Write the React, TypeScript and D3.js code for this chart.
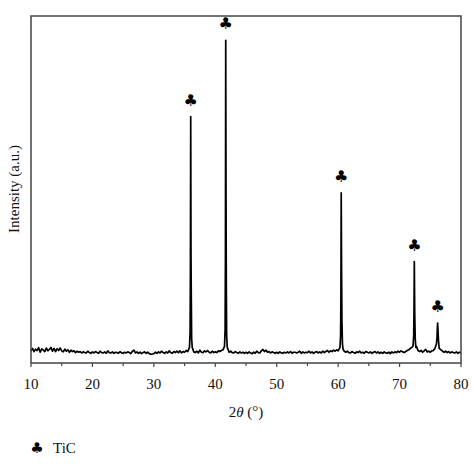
import React from "react";
import * as d3 from "d3";

// 2θ grid of the noisy background, step 0.25° from 10 to 80
const bgStart = 10;
const bgStep = 0.25;
const background: number[] = [
  34, 42, 33, 40, 36, 44, 31, 41, 37, 33, 43, 35, 39, 45, 34, 42,
  33, 41, 36, 43, 35, 32, 40, 34, 38, 31, 37, 33, 35, 30, 34, 31,
  33, 29, 32, 30, 29, 34, 30, 28, 32, 29, 33, 30, 28, 34, 30, 29,
  32, 28, 35, 30, 29, 32, 28, 31, 30, 28, 33, 29, 28, 31, 29, 32,
  30, 27, 34, 37, 29, 32, 28, 31, 27, 30, 32, 28, 31, 27, 25, 26,
  27, 31, 28, 32, 29, 34, 30, 28, 32, 29, 35, 30, 28, 33, 30, 34,
  30, 35, 29, 33, 31, 36, 33, 37, 38, 34, 32, 30, 34, 29, 37, 31,
  30, 35, 32, 36, 31, 29, 34, 30, 32, 30, 35, 33, 36, 38, 40, 35,
  34, 31, 34, 30, 29, 33, 30, 28, 32, 29, 31, 28, 31, 28, 32, 29,
  27, 31, 28, 34, 30, 29, 35, 39, 33, 37, 31, 33, 29, 32, 30, 28,
  31, 28, 32, 29, 28, 31, 29, 32, 29, 33, 28, 31, 31, 29, 31, 34,
  28, 32, 29, 31, 30, 34, 29, 32, 28, 31, 33, 29, 32, 29, 34, 30,
  33, 36, 31, 35, 33, 37, 34, 38, 35, 38, 40, 37, 34, 31, 34, 30,
  29, 33, 30, 28, 32, 30, 34, 29, 31, 28, 33, 31, 29, 32, 28, 31,
  33, 29, 32, 28, 31, 28, 32, 29, 28, 31, 27, 32, 29, 32, 30, 34,
  31, 35, 32, 30, 33, 36, 38, 42, 45, 50, 55, 48, 36, 33, 36, 31,
  35, 39, 32, 34, 31, 35, 36, 42, 50, 55, 45, 38, 34, 31, 34, 30,
  33, 29, 32, 30, 29, 32, 28, 31, 30,
];

// TiC reflections: peak positions (2θ) and apex intensities
const peakPositions = [36.0, 41.7, 60.5, 72.4, 76.2];
const peakHeights = [710, 930, 490, 292, 115];

// Points describing each peak profile [2θ, intensity]
const peakPoints: [number, number][] = [
  [35.8, 45], [35.9, 90], [35.95, 260], [36.0, 710], [36.05, 300], [36.1, 180], [36.15, 70], [36.25, 45],
  [41.5, 48], [41.6, 95], [41.65, 300], [41.7, 930], [41.75, 480], [41.8, 210], [41.85, 80], [41.95, 45],
  [60.3, 45], [60.4, 80], [60.45, 190], [60.5, 490], [60.56, 260], [60.62, 120], [60.7, 55], [60.8, 40],
  [72.2, 50], [72.3, 80], [72.35, 150], [72.4, 292], [72.47, 140], [72.55, 70], [72.65, 45],
  [76.0, 55], [76.1, 75], [76.15, 100], [76.2, 115], [76.28, 85], [76.35, 60], [76.45, 42],
];

const xTicks = [10, 20, 30, 40, 50, 60, 70, 80];
const xMinorTicks = [15, 25, 35, 45, 55, 65, 75];
const legendLabel = "TiC";
const yLabel = "Intensity (a.u.)";

export default function App() {
  const W = 474;
  const H = 474;
  const left = 31;
  const right = 461;
  const top = 16;
  const bottom = 363;

  const x = d3.scaleLinear().domain([10, 80]).range([left, right]);
  const y = d3.scaleLinear().domain([0, 1000]).range([bottom, top]);

  const bgPts: [number, number][] = background
    .map((v, i) => [bgStart + i * bgStep, v] as [number, number])
    .filter(([t]) => !peakPositions.some((p) => Math.abs(t - p) < 0.3));
  const pts = [...bgPts, ...peakPoints].sort((a, b) => a[0] - b[0]);

  const line = d3
    .line<[number, number]>()
    .x((d) => x(d[0]))
    .y((d) => y(d[1]));

  const serif = "'Liberation Serif', 'Times New Roman', serif";
  const frame = "#444";

  return (
    <svg
      width={W}
      height={H}
      style={{ position: "absolute", left: 0, top: 0, background: "#fff" }}
    >
      <rect x={0} y={0} width={W} height={H} fill="#fff" />
      {/* data */}
      <path d={line(pts) || ""} fill="none" stroke="#000" strokeWidth={1.7} strokeLinejoin="round" />
      {/* frame */}
      <rect x={left} y={top} width={right - left} height={bottom - top} fill="none" stroke={frame} strokeWidth={1.5} />
      {/* ticks */}
      {xTicks.map((t) => (
        <g key={"t" + t}>
          <line x1={x(t)} x2={x(t)} y1={bottom} y2={bottom + 4} stroke={frame} strokeWidth={1.2} />
          <text x={x(t)} y={389} textAnchor="middle" fontFamily={serif} fontSize={15} fill="#111">
            {t}
          </text>
        </g>
      ))}
      {xMinorTicks.map((t) => (
        <line key={"m" + t} x1={x(t)} x2={x(t)} y1={bottom} y2={bottom + 3} stroke={frame} strokeWidth={1.2} />
      ))}
      {/* axis titles */}
      <text x={(left + right) / 2} y={417} textAnchor="middle" fontFamily={serif} fontSize={15} fill="#111">
        2<tspan fontStyle="italic">θ</tspan> (<tspan dy={-1}>°</tspan><tspan dy={1}>)</tspan>
      </text>
      <text
        transform={`translate(19, 189) rotate(-90)`}
        textAnchor="middle"
        fontFamily={serif}
        fontSize={15}
        fill="#111"
      >
        {yLabel}
      </text>
      {/* peak markers */}
      {peakPositions.map((p, i) => (
        <text
          key={"c" + i}
          x={x(p)}
          y={y(peakHeights[i]) - 7}
          textAnchor="middle"
          fontFamily="'DejaVu Sans', sans-serif"
          fontSize={16}
          fill="#000"
          dominantBaseline="text-after-edge"
        >
          ♣
        </text>
      ))}
      {/* legend */}
      <text x={37} y={453} textAnchor="middle" fontFamily="'DejaVu Sans', sans-serif" fontSize={15} fill="#000">
        ♣
      </text>
      <text x={53} y={453} fontFamily={serif} fontSize={15} fill="#111">
        {legendLabel}
      </text>
    </svg>
  );
}
